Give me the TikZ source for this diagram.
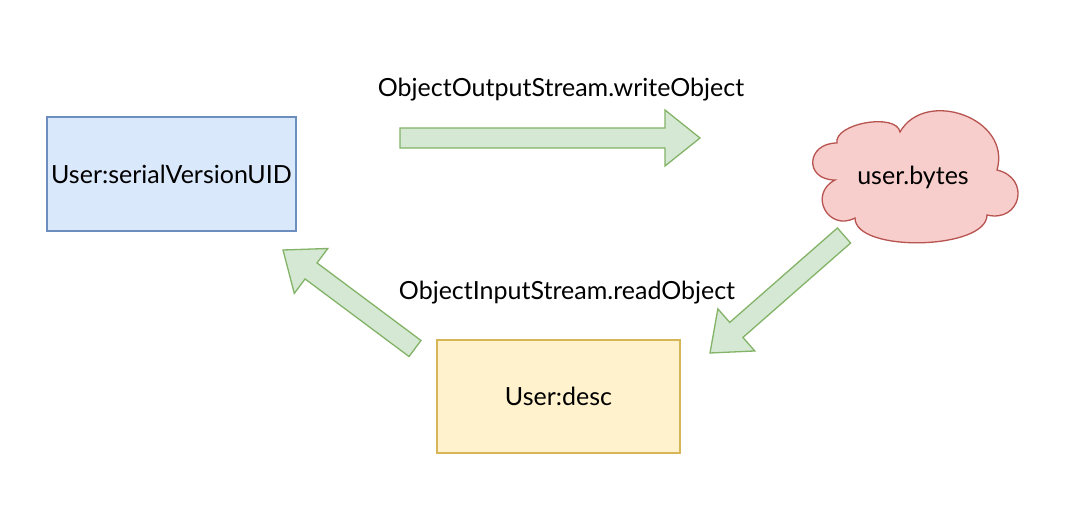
\documentclass[tikz,border=0pt]{standalone}
\usepackage{fontspec}
\setmainfont{Lato}
\usetikzlibrary{calc}
\definecolor{bluefill}{HTML}{DAE8FC}
\definecolor{bluedraw}{HTML}{6C8EBF}
\definecolor{yellowfill}{HTML}{FFF2CC}
\definecolor{yellowdraw}{HTML}{D6B656}
\definecolor{redfill}{HTML}{F8CECC}
\definecolor{reddraw}{HTML}{B85450}
\definecolor{greenfill}{HTML}{D5E8D4}
\definecolor{greendraw}{HTML}{82B366}
\tikzset{
  box/.style={draw, line width=1.3pt, inner sep=0pt, font=\fontsize{25}{30}\selectfont},
  lbl/.style={inner sep=0pt, font=\fontsize{25}{30}\selectfont},
  fatarrow/.style={fill=greenfill, draw=greendraw, line width=1.3pt, line join=miter},
}
\newcommand\fatarr[2]{%
  \coordinate (h-#1-#2) at ($(#2)!35pt!(#1)$);
  \filldraw[fatarrow] ($(#1)!10pt!90:(#2)$) -- ($(h-#1-#2)!10pt!90:(#2)$) -- ($(h-#1-#2)!28pt!90:(#2)$) -- (#2)
    -- ($(h-#1-#2)!28pt!-90:(#2)$) -- ($(h-#1-#2)!10pt!-90:(#2)$) -- ($(#1)!10pt!-90:(#2)$) -- cycle;}
\begin{document}
\begin{tikzpicture}[x=1pt,y=-1pt]
\useasboundingbox (0,0) rectangle (1080,519);
\fill[white] (0,0) rectangle (1080,519);
% boxes
\node[box, fill=bluefill, draw=bluedraw, minimum width=249pt, minimum height=114pt] (uid) at (171.5,174) {User:serialVersionUID};
\node[box, fill=yellowfill, draw=yellowdraw, minimum width=243pt, minimum height=113pt] (desc) at (558.5,396.5) {User:desc};
% cloud
\filldraw[fill=redfill, draw=reddraw, line width=1.3pt]
  (837,143) .. controls (806,143) and (804,180) .. (835,180)
  .. controls (808,194) and (828,232) .. (855,218)
  .. controls (855,253) and (987,250) .. (987,215)
  .. controls (1021,223) and (1031,178) .. (997,170)
  .. controls (1012,118) and (925,88) .. (900,132)
  .. controls (896.6,112.4) and (833.6,123.4) .. (837,143) -- cycle;
\node[lbl] (bytes) at (913,177) {user.bytes};
% labels
\node[lbl] (wlbl) at (561,90) {ObjectOutputStream.writeObject};
\node[lbl] (rlbl) at (567,293) {ObjectInputStream.readObject};
% arrows
\coordinate (w1) at (400,138);
\coordinate (w2) at (700,138);
\coordinate (b1) at (844,235.5);
\coordinate (b2) at (710,353);
\coordinate (r1) at (415,348.5);
\coordinate (r2) at (283,250);
\fatarr{w1}{w2}
\fatarr{b1}{b2}
\fatarr{r1}{r2}
\end{tikzpicture}
\end{document}
